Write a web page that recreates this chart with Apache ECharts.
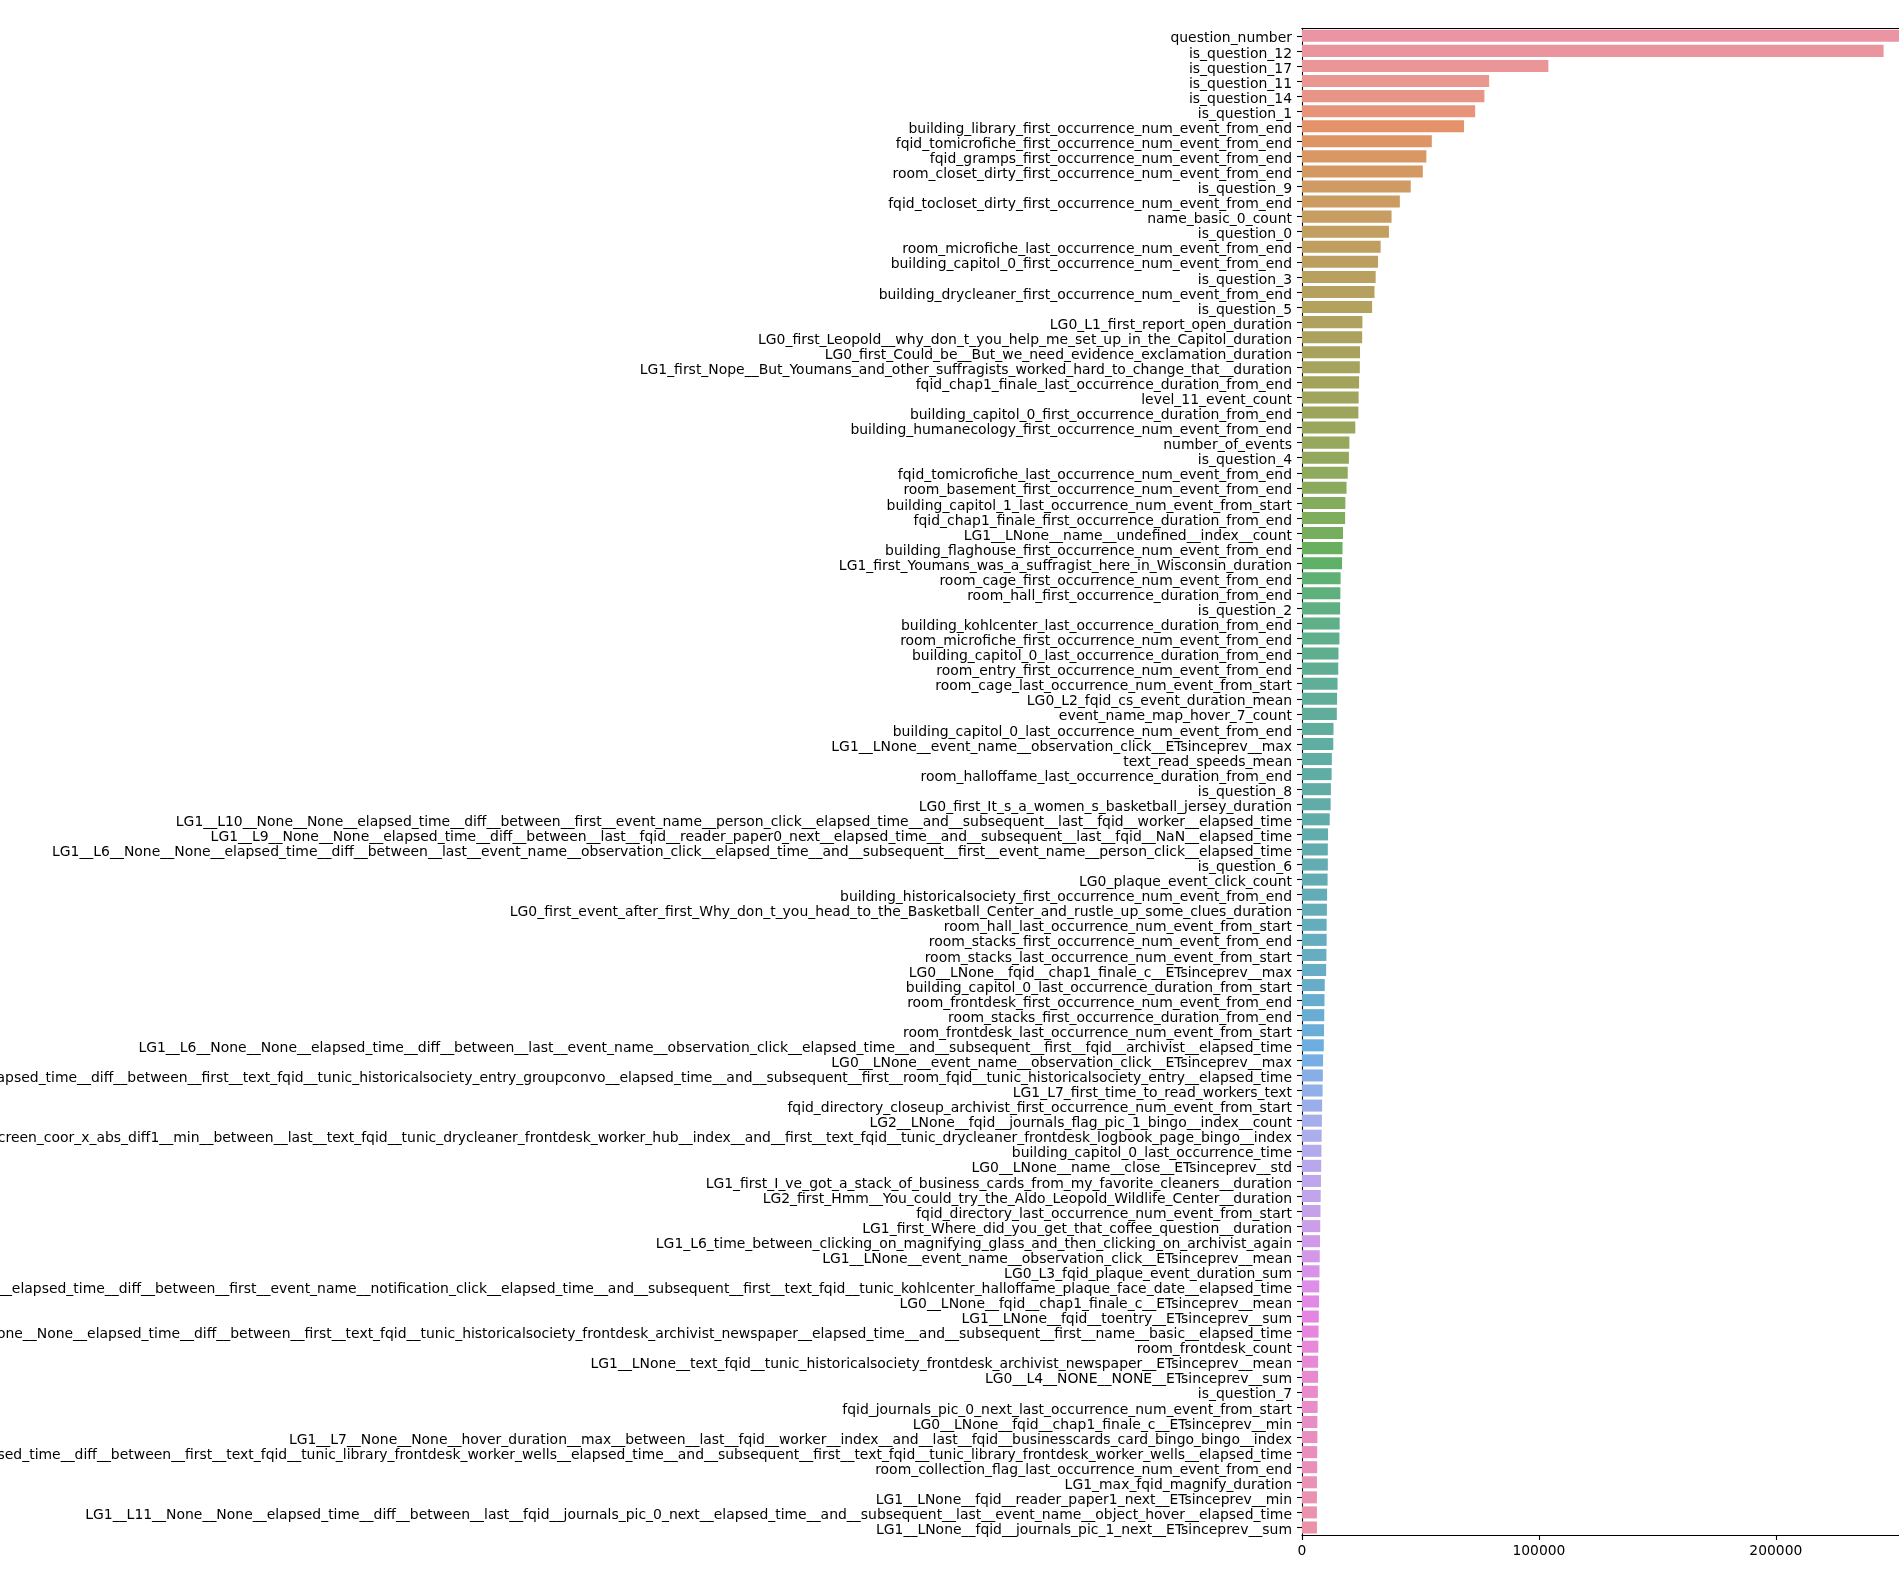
<!DOCTYPE html>
<html>
<head>
<meta charset="utf-8">
<script src="https://cdn.jsdelivr.net/npm/echarts@6/dist/echarts.min.js"></script>
<style>
html,body{margin:0;padding:0;background:#fff;}
#chart{width:1899px;height:1588px;}
</style>
</head>
<body>
<div id="chart"></div>
<script>
const features = [
"question_number",
"is_question_12",
"is_question_17",
"is_question_11",
"is_question_14",
"is_question_1",
"building_library_first_occurrence_num_event_from_end",
"fqid_tomicrofiche_first_occurrence_num_event_from_end",
"fqid_gramps_first_occurrence_num_event_from_end",
"room_closet_dirty_first_occurrence_num_event_from_end",
"is_question_9",
"fqid_tocloset_dirty_first_occurrence_num_event_from_end",
"name_basic_0_count",
"is_question_0",
"room_microfiche_last_occurrence_num_event_from_end",
"building_capitol_0_first_occurrence_num_event_from_end",
"is_question_3",
"building_drycleaner_first_occurrence_num_event_from_end",
"is_question_5",
"LG0_L1_first_report_open_duration",
"LG0_first_Leopold__why_don_t_you_help_me_set_up_in_the_Capitol_duration",
"LG0_first_Could_be__But_we_need_evidence_exclamation_duration",
"LG1_first_Nope__But_Youmans_and_other_suffragists_worked_hard_to_change_that__duration",
"fqid_chap1_finale_last_occurrence_duration_from_end",
"level_11_event_count",
"building_capitol_0_first_occurrence_duration_from_end",
"building_humanecology_first_occurrence_num_event_from_end",
"number_of_events",
"is_question_4",
"fqid_tomicrofiche_last_occurrence_num_event_from_end",
"room_basement_first_occurrence_num_event_from_end",
"building_capitol_1_last_occurrence_num_event_from_start",
"fqid_chap1_finale_first_occurrence_duration_from_end",
"LG1__LNone__name__undefined__index__count",
"building_flaghouse_first_occurrence_num_event_from_end",
"LG1_first_Youmans_was_a_suffragist_here_in_Wisconsin_duration",
"room_cage_first_occurrence_num_event_from_end",
"room_hall_first_occurrence_duration_from_end",
"is_question_2",
"building_kohlcenter_last_occurrence_duration_from_end",
"room_microfiche_first_occurrence_num_event_from_end",
"building_capitol_0_last_occurrence_duration_from_end",
"room_entry_first_occurrence_num_event_from_end",
"room_cage_last_occurrence_num_event_from_start",
"LG0_L2_fqid_cs_event_duration_mean",
"event_name_map_hover_7_count",
"building_capitol_0_last_occurrence_num_event_from_end",
"LG1__LNone__event_name__observation_click__ETsinceprev__max",
"text_read_speeds_mean",
"room_halloffame_last_occurrence_duration_from_end",
"is_question_8",
"LG0_first_It_s_a_women_s_basketball_jersey_duration",
"LG1__L10__None__None__elapsed_time__diff__between__first__event_name__person_click__elapsed_time__and__subsequent__last__fqid__worker__elapsed_time",
"LG1__L9__None__None__elapsed_time__diff__between__last__fqid__reader_paper0_next__elapsed_time__and__subsequent__last__fqid__NaN__elapsed_time",
"LG1__L6__None__None__elapsed_time__diff__between__last__event_name__observation_click__elapsed_time__and__subsequent__first__event_name__person_click__elapsed_time",
"is_question_6",
"LG0_plaque_event_click_count",
"building_historicalsociety_first_occurrence_num_event_from_end",
"LG0_first_event_after_first_Why_don_t_you_head_to_the_Basketball_Center_and_rustle_up_some_clues_duration",
"room_hall_last_occurrence_num_event_from_start",
"room_stacks_first_occurrence_num_event_from_end",
"room_stacks_last_occurrence_num_event_from_start",
"LG0__LNone__fqid__chap1_finale_c__ETsinceprev__max",
"building_capitol_0_last_occurrence_duration_from_start",
"room_frontdesk_first_occurrence_num_event_from_end",
"room_stacks_first_occurrence_duration_from_end",
"room_frontdesk_last_occurrence_num_event_from_start",
"LG1__L6__None__None__elapsed_time__diff__between__last__event_name__observation_click__elapsed_time__and__subsequent__first__fqid__archivist__elapsed_time",
"LG0__LNone__event_name__observation_click__ETsinceprev__max",
"LG1__L5__None__None__elapsed_time__diff__between__first__text_fqid__tunic_historicalsociety_entry_groupconvo__elapsed_time__and__subsequent__first__room_fqid__tunic_historicalsociety_entry__elapsed_time",
"LG1_L7_first_time_to_read_workers_text",
"fqid_directory_closeup_archivist_first_occurrence_num_event_from_start",
"LG2__LNone__fqid__journals_flag_pic_1_bingo__index__count",
"LG1__L8__None__None__screen_coor_x_abs_diff1__min__between__last__text_fqid__tunic_drycleaner_frontdesk_worker_hub__index__and__first__text_fqid__tunic_drycleaner_frontdesk_logbook_page_bingo__index",
"building_capitol_0_last_occurrence_time",
"LG0__LNone__name__close__ETsinceprev__std",
"LG1_first_I_ve_got_a_stack_of_business_cards_from_my_favorite_cleaners__duration",
"LG2_first_Hmm__You_could_try_the_Aldo_Leopold_Wildlife_Center__duration",
"fqid_directory_last_occurrence_num_event_from_start",
"LG1_first_Where_did_you_get_that_coffee_question__duration",
"LG1_L6_time_between_clicking_on_magnifying_glass_and_then_clicking_on_archivist_again",
"LG1__LNone__event_name__observation_click__ETsinceprev__mean",
"LG0_L3_fqid_plaque_event_duration_sum",
"LG0__L3__None__None__elapsed_time__diff__between__first__event_name__notification_click__elapsed_time__and__subsequent__first__text_fqid__tunic_kohlcenter_halloffame_plaque_face_date__elapsed_time",
"LG0__LNone__fqid__chap1_finale_c__ETsinceprev__mean",
"LG1__LNone__fqid__toentry__ETsinceprev__sum",
"LG1__L5__None__None__elapsed_time__diff__between__first__text_fqid__tunic_historicalsociety_frontdesk_archivist_newspaper__elapsed_time__and__subsequent__first__name__basic__elapsed_time",
"room_frontdesk_count",
"LG1__LNone__text_fqid__tunic_historicalsociety_frontdesk_archivist_newspaper__ETsinceprev__mean",
"LG0__L4__NONE__NONE__ETsinceprev__sum",
"is_question_7",
"fqid_journals_pic_0_next_last_occurrence_num_event_from_start",
"LG0__LNone__fqid__chap1_finale_c__ETsinceprev__min",
"LG1__L7__None__None__hover_duration__max__between__last__fqid__worker__index__and__last__fqid__businesscards_card_bingo_bingo__index",
"LG1__L8__None__None__elapsed_time__diff__between__first__text_fqid__tunic_library_frontdesk_worker_wells__elapsed_time__and__subsequent__first__text_fqid__tunic_library_frontdesk_worker_wells__elapsed_time",
"room_collection_flag_last_occurrence_num_event_from_end",
"LG1_max_fqid_magnify_duration",
"LG1__LNone__fqid__reader_paper1_next__ETsinceprev__min",
"LG1__L11__None__None__elapsed_time__diff__between__last__fqid__journals_pic_0_next__elapsed_time__and__subsequent__last__event_name__object_hover__elapsed_time",
"LG1__LNone__fqid__journals_pic_1_next__ETsinceprev__sum"
];

const importance = [
265000, 245500, 104000, 79000, 77000, 73100, 68400, 54800, 52500, 51000,
45900, 41300, 37800, 36700, 33200, 32100, 31100, 30600, 29600, 25500,
25400, 24500, 24400, 24100, 23900, 23800, 22500, 20000, 19800, 19300,
18800, 18300, 18200, 17300, 17100, 16900, 16300, 16200, 16100, 15900,
15800, 15400, 15300, 15000, 14800, 14700, 13300, 13200, 12600, 12500,
12200, 12100, 11700, 11000, 10900, 10900, 10800, 10600, 10500, 10400,
10400, 10300, 10200, 9600, 9500, 9400, 9300, 9200, 8900, 8800,
8700, 8500, 8400, 8300, 8200, 8100, 8000, 7900, 7800, 7700,
7600, 7500, 7400, 7300, 7200, 7100, 7000, 6900, 6800, 6800,
6700, 6600, 6500, 6500, 6400, 6400, 6300, 6300, 6300, 6300
];

const xTicks = [0, 100000, 200000, 300000];

// seaborn husl palette + desaturate(0.75), lightened slightly to match the reference
const M = [[3.2406,-1.5372,-0.4986],[-0.9689,1.8758,0.0415],[0.0557,-0.2040,1.0570]];
const refU = 0.19784, refV = 0.46834, refY = 1.0, labE = 0.008856, labK = 903.3;
function maxChroma(L, H){
  const hr = H*Math.PI/180, sinH = Math.sin(hr), cosH = Math.cos(hr);
  const sub1 = Math.pow(L+16,3)/1560896;
  const sub2 = sub1 > labE ? sub1 : L/labK;
  let res = Infinity;
  for (const r of M){
    const top = (0.99915*r[0] + 1.05122*r[1] + 1.14460*r[2])*sub2;
    const rb = 0.86330*r[2] - 0.17266*r[1];
    const lb = 0.12949*r[2] - 0.38848*r[0];
    const bottom = (rb*sinH + lb*cosH)*sub2;
    for (const t of [0,1]){
      const C = L*(top - 1.05122*t)/(bottom + 0.17266*sinH*t);
      if (C > 0 && C < res) res = C;
    }
  }
  return res;
}
function fInv(t){ return Math.pow(t,3) > labE ? Math.pow(t,3) : (116*t-16)/labK; }
function fromLinear(c){ return c <= 0.0031308 ? 12.92*c : 1.055*Math.pow(c,1/2.4) - 0.055; }
function huslToRgb(H,S,L){
  const C = maxChroma(L,H)/100*S;
  const hr = H*Math.PI/180;
  const U = Math.cos(hr)*C, V = Math.sin(hr)*C;
  const varY = fInv((L+16)/116);
  const varU = U/(13*L)+refU, varV = V/(13*L)+refV;
  const Y = varY*refY;
  const X = -(9*Y*varU)/((varU-4)*varV - varU*varV);
  const Z = (9*Y - 15*varV*Y - varV*X)/(3*varV);
  return M.map(r => Math.min(1, Math.max(0, fromLinear(r[0]*X + r[1]*Y + r[2]*Z))));
}
function rgbToHls(r,g,b){
  const mx = Math.max(r,g,b), mn = Math.min(r,g,b);
  const l = (mx+mn)/2;
  if (mx === mn) return [0,l,0];
  const s = l <= 0.5 ? (mx-mn)/(mx+mn) : (mx-mn)/(2-mx-mn);
  const rc=(mx-r)/(mx-mn), gc=(mx-g)/(mx-mn), bc=(mx-b)/(mx-mn);
  let h;
  if (r === mx) h = bc-gc; else if (g === mx) h = 2+rc-bc; else h = 4+gc-rc;
  h = ((h/6)%1+1)%1;
  return [h,l,s];
}
function vv(m1,m2,h){
  h = ((h%1)+1)%1;
  if (h < 1/6) return m1+(m2-m1)*h*6;
  if (h < 0.5) return m2;
  if (h < 2/3) return m1+(m2-m1)*(2/3-h)*6;
  return m1;
}
function hlsToRgb(h,l,s){
  if (s === 0) return [l,l,l];
  const m2 = l <= 0.5 ? l*(1+s) : l+s-l*s;
  const m1 = 2*l-m2;
  return [vv(m1,m2,h+1/3), vv(m1,m2,h), vv(m1,m2,h-1/3)];
}
function palette(n){
  const out = [];
  for (let i=0;i<n;i++){
    let h = (i/n + 0.01) % 1;
    const rgb = huslToRgb(h*359, 0.9*99, 0.65*99);
    const hls = rgbToHls(rgb[0],rgb[1],rgb[2]);
    const d = hlsToRgb(hls[0], hls[1], hls[2]*0.75);
    const w = 0.15;
    out.push('rgb(' + d.map(c => Math.round((c*(1-w) + w)*255)).join(',') + ')');
  }
  return out;
}
const colors = palette(features.length);

const FONT = '"DejaVu Sans", sans-serif';
const FS = 13.89;
const FSY = 13.95;

const chart = echarts.init(document.getElementById('chart'), null, {renderer:'canvas'});
chart.setOption({
  animation: false,
  backgroundColor: '#ffffff',
  grid: {left: 1302, top: 28.3, width: 710.7, height: 1506.7, containLabel: false, outerBoundsMode: 'none'},
  xAxis: [{
    type: 'value', position: 'bottom',
    min: xTicks[0], max: xTicks[xTicks.length-1], interval: xTicks[1]-xTicks[0],
    axisLine: {show: true, lineStyle: {color: '#000', width: 1.1}},
    axisTick: {show: true, length: 5, lineStyle: {color: '#000', width: 1.1}},
    axisLabel: {show: true, margin: 9, color: '#000', fontFamily: FONT, fontSize: FS,
      formatter: v => String(v)},
    splitLine: {show: false}
  }, {
    type: 'value', position: 'top',
    min: xTicks[0], max: xTicks[xTicks.length-1],
    axisLine: {show: true, lineStyle: {color: '#000', width: 1.1}},
    axisTick: {show: false}, axisLabel: {show: false}, splitLine: {show: false}
  }],
  yAxis: {
    type: 'category', inverse: true, data: features,
    axisLine: {show: true, lineStyle: {color: '#000', width: 1.1}},
    axisTick: {show: true, length: 5, alignWithLabel: true, lineStyle: {color: '#000', width: 1.1}},
    axisLabel: {show: true, interval: 0, margin: 10, color: '#000', fontFamily: FONT, fontSize: FSY,
      formatter: v => '{t|' + v + '}',
      rich: {t: {color: '#000', fontFamily: FONT, fontSize: FSY, lineHeight: 16, padding: [6, 0, 0, 0]}}},
    splitLine: {show: false}
  },
  series: [{
    type: 'bar',
    xAxisIndex: 0,
    barCategoryGap: '20%',
    data: importance.map((v,i) => ({value: v, itemStyle: {color: colors[i]}}))
  }]
});
</script>
</body>
</html>
